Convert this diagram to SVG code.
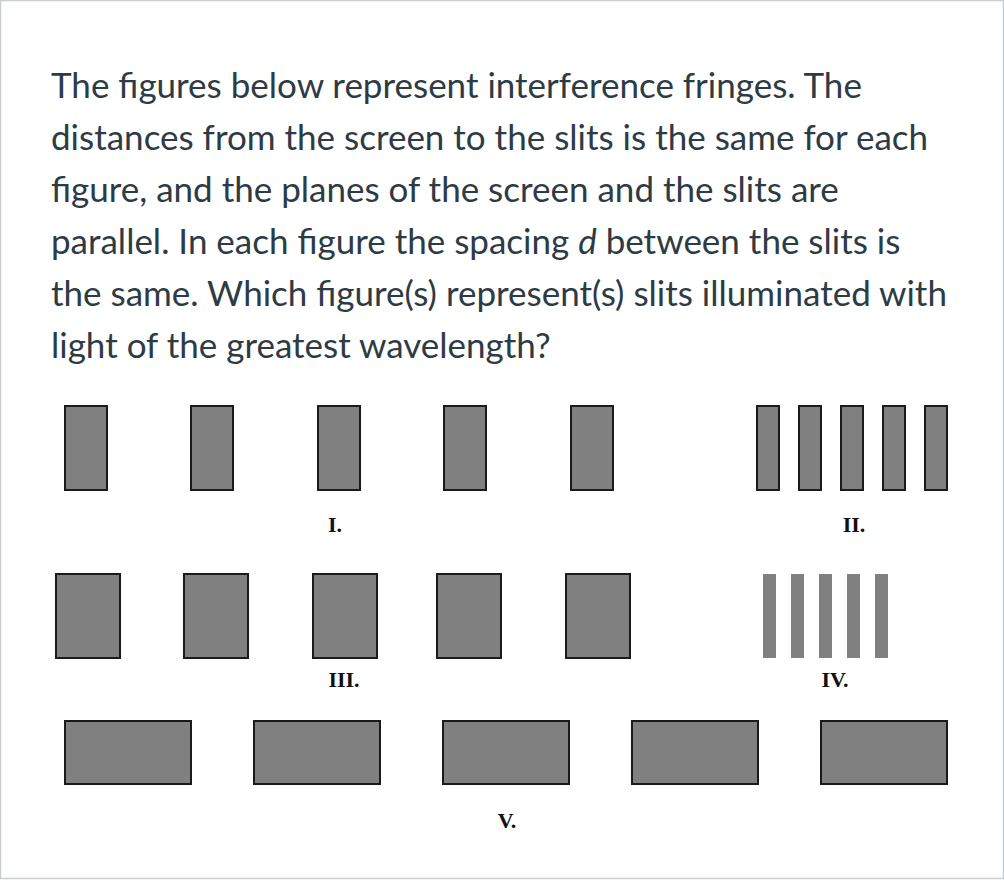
<svg xmlns="http://www.w3.org/2000/svg" width="1004" height="880" viewBox="0 0 1004 880">
<style>
.q{font-family:Lato,"Noto Sans",sans-serif;font-size:35px;fill:#2d3b45}
.f{fill:#808080;stroke:#1a1a1a;stroke-width:2}
.n{fill:#808080}
.l{font-family:"Liberation Serif",serif;font-size:22px;font-weight:bold;fill:#111;text-anchor:middle}
</style>
<rect x="0.5" y="0.5" width="1003" height="878" fill="#fff" stroke="#c7cdd1" stroke-width="1.5"/>
<g id="question">
<text class="q" x="51" y="98">The figures below represent interference fringes. The</text>
<text class="q" x="51" y="150">distances from the screen to the slits is the same for each</text>
<text class="q" x="51" y="202">figure, and the planes of the screen and the slits are</text>
<text class="q" x="51" y="254">parallel. In each figure the spacing <tspan font-style="italic">d</tspan> between the slits is</text>
<text class="q" x="51" y="306">the same. Which figure(s) represent(s) slits illuminated with</text>
<text class="q" x="51" y="358">light of the greatest wavelength?</text>
</g>
<g id="fig1">
<rect class="f" x="65" y="406" width="42" height="84"/>
<rect class="f" x="191" y="406" width="42" height="84"/>
<rect class="f" x="318" y="406" width="42" height="84"/>
<rect class="f" x="444" y="406" width="42" height="84"/>
<rect class="f" x="571" y="406" width="42" height="84"/>
<text class="l" x="335" y="532">I.</text>
</g>
<g id="fig2">
<rect class="f" x="757" y="406" width="22" height="84"/>
<rect class="f" x="799" y="406" width="22" height="84"/>
<rect class="f" x="841" y="406" width="22" height="84"/>
<rect class="f" x="883" y="406" width="22" height="84"/>
<rect class="f" x="925" y="406" width="22" height="84"/>
<text class="l" x="854" y="532">II.</text>
</g>
<g id="fig3">
<rect class="f" x="56" y="574" width="64" height="84"/>
<rect class="f" x="184" y="574" width="64" height="84"/>
<rect class="f" x="313" y="574" width="64" height="84"/>
<rect class="f" x="437" y="574" width="64" height="84"/>
<rect class="f" x="566" y="574" width="64" height="84"/>
<text class="l" x="344" y="687">III.</text>
</g>
<g id="fig4">
<rect class="n" x="763" y="574" width="13" height="84"/>
<rect class="n" x="791" y="574" width="13" height="84"/>
<rect class="n" x="819" y="574" width="13" height="84"/>
<rect class="n" x="847" y="574" width="13" height="84"/>
<rect class="n" x="875" y="574" width="13" height="84"/>
<text class="l" x="835" y="687">IV.</text>
</g>
<g id="fig5">
<rect class="f" x="65" y="721" width="126" height="63"/>
<rect class="f" x="254" y="721" width="126" height="63"/>
<rect class="f" x="443" y="721" width="126" height="63"/>
<rect class="f" x="632" y="721" width="126" height="63"/>
<rect class="f" x="821" y="721" width="126" height="63"/>
<text class="l" x="507" y="828">V.</text>
</g>
<g id="connectors"/>
</svg>
